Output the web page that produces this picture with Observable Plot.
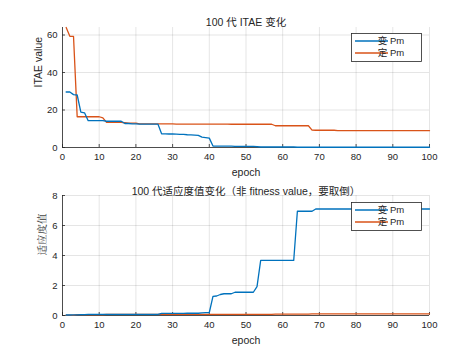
<!DOCTYPE html>
<html><head><meta charset="utf-8">
<script src="https://cdn.jsdelivr.net/npm/d3@7"></script>
<script src="https://cdn.jsdelivr.net/npm/@observablehq/plot@0.6"></script>
<style>
body{margin:0;background:#fff;}
#chart{width:474px;height:355px;}
#chart svg{display:block;overflow:visible;}
</style></head><body><div id="chart"></div>
<script>
// ---- data ----
const seriesNames = ["变 Pm", "定 Pm"];
const xTicks = [0, 10, 20, 30, 40, 50, 60, 70, 80, 90, 100];
const itaeTicks = [0, 20, 40, 60];
const fitTicks = [0, 2, 4, 6, 8];

// ITAE value per epoch (1..100), variable Pm
const itaeVar = [
  29.6,29.6,28.2,28.0,18.9,18.5,14.3,14.3,14.3,14.3,
  14.3,14.0,14.0,14.0,14.0,14.0,12.8,12.8,12.6,12.6,
  12.5,12.5,12.5,12.5,12.5,12.5,7.3,7.3,7.2,7.2,
  7.1,7.0,7.0,6.8,6.7,6.6,6.5,5.5,5.3,5.0,
  0.8,0.78,0.72,0.69,0.69,0.69,0.65,0.65,0.65,0.65,
  0.65,0.65,0.52,0.27,0.27,0.27,0.27,0.27,0.27,0.27,
  0.27,0.27,0.27,0.145,0.145,0.145,0.145,0.145,0.141,0.141,
  0.141,0.141,0.141,0.141,0.141,0.141,0.141,0.141,0.141,0.141,
  0.141,0.141,0.141,0.141,0.141,0.141,0.141,0.141,0.141,0.141,
  0.141,0.141,0.141,0.141,0.141,0.141,0.141,0.141,0.141,0.141
];
// ITAE value per epoch, fixed Pm
const itaeFix = [
  64,59.3,59.3,16.4,16.4,16.4,16.4,16.4,16.4,16.4,
  15.8,13.4,13.4,13.4,13.4,13.4,13.2,13.0,13.0,13.0,
  12.6,12.6,12.6,12.6,12.6,12.6,12.6,12.6,12.6,12.6,
  12.5,12.5,12.5,12.5,12.5,12.5,12.5,12.5,12.5,12.5,
  12.5,12.5,12.5,12.5,12.5,12.4,12.4,12.4,12.4,12.4,
  12.4,12.4,12.4,12.4,12.4,12.4,12.4,11.6,11.6,11.6,
  11.6,11.6,11.6,11.6,11.6,11.6,11.6,9.3,9.2,9.2,
  9.2,9.2,9.2,9.2,9.0,9.0,9.0,9.0,9.0,9.0,
  9.0,9.0,9.0,9.0,9.0,9.0,9.0,9.0,9.0,9.0,
  9.0,9.0,9.0,9.0,9.0,9.0,9.0,9.0,9.0,9.0
];
// fitness per epoch, variable Pm
const fitVar = [
  0.034,0.034,0.036,0.036,0.053,0.054,0.07,0.07,0.07,0.07,
  0.07,0.071,0.071,0.071,0.071,0.071,0.078,0.078,0.079,0.079,
  0.08,0.08,0.08,0.08,0.08,0.08,0.14,0.14,0.14,0.14,
  0.14,0.14,0.14,0.15,0.15,0.15,0.15,0.18,0.19,0.2,
  1.27,1.3,1.4,1.45,1.45,1.45,1.55,1.55,1.55,1.55,
  1.55,1.55,1.93,3.67,3.67,3.67,3.67,3.67,3.67,3.67,
  3.67,3.67,3.67,6.95,6.95,6.95,6.95,6.95,7.1,7.1,
  7.1,7.1,7.1,7.1,7.1,7.1,7.1,7.1,7.1,7.1,
  7.1,7.1,7.1,7.1,7.1,7.1,7.1,7.1,7.1,7.1,
  7.1,7.1,7.1,7.1,7.1,7.1,7.1,7.1,7.1,7.1
];
// fitness per epoch, fixed Pm
const fitFix = [
  0.016,0.017,0.017,0.061,0.061,0.061,0.061,0.061,0.061,0.061,
  0.063,0.075,0.075,0.075,0.075,0.075,0.077,0.077,0.077,0.077,
  0.08,0.08,0.08,0.08,0.08,0.08,0.08,0.08,0.08,0.08,
  0.08,0.08,0.08,0.08,0.08,0.08,0.08,0.08,0.08,0.08,
  0.08,0.08,0.08,0.08,0.08,0.08,0.08,0.08,0.08,0.08,
  0.08,0.08,0.08,0.08,0.08,0.08,0.08,0.086,0.086,0.086,
  0.086,0.086,0.086,0.086,0.086,0.086,0.086,0.11,0.11,0.11,
  0.11,0.11,0.11,0.11,0.11,0.11,0.11,0.11,0.11,0.11,
  0.11,0.11,0.11,0.11,0.11,0.11,0.11,0.11,0.11,0.11,
  0.11,0.11,0.11,0.11,0.11,0.11,0.11,0.11,0.11,0.11
];

// ---- styling ----
const FONT = "'Liberation Sans', Arial, 'Noto Sans CJK SC', sans-serif";
const INK = "#262626";
const BLUE = "#0072BD", ORANGE = "#D95319";
const W = 474, ML = 62, MR = 45;

function panel(o) {
  const innerH = o.height - o.marginTop - o.marginBottom;
  const innerW = W - ML - MR;
  const x = (d, i) => i + 1;
  const plot = Plot.plot({
    width: W, height: o.height,
    marginLeft: ML, marginRight: MR, marginTop: o.marginTop, marginBottom: o.marginBottom,
    style: {fontFamily: FONT, fontSize: "9.5px", color: INK, background: "white", overflow: "visible"},
    x: {domain: [0, 100]},
    y: {domain: o.domain},
    marks: [
      Plot.gridX(xTicks, {stroke: "#000", strokeOpacity: 0.1}),
      Plot.gridY(o.ticks, {stroke: "#000", strokeOpacity: 0.1}),
      Plot.ruleX([0], {stroke: INK, strokeWidth: 0.8}),
      Plot.ruleY([o.domain[0]], {stroke: INK, strokeWidth: 0.8}),
      Plot.tickX(xTicks, {x: d => d, stroke: INK, strokeWidth: 0.8, insetTop: innerH - 3}),
      Plot.tickY(o.ticks, {y: d => d, stroke: INK, strokeWidth: 0.8, insetRight: innerW - 3}),
      Plot.axisX(xTicks, {tickSize: 0, tickPadding: 6, fontSize: 9.5, label: "epoch", labelAnchor: "center", labelArrow: "none", labelOffset: o.xLabelOffset}),
      Plot.axisY(o.ticks, {tickSize: 0, tickPadding: 5, fontSize: 9.5, label: null}),
      Plot.line(o.fix, {x, y: d => d, stroke: ORANGE, strokeWidth: 1.3}),
      Plot.line(o.vary, {x, y: d => d, stroke: BLUE, strokeWidth: 1.3}),
      Plot.text([o.title], {frameAnchor: "top", dy: o.titleDy, fontSize: 10.5, fill: INK, fontFamily: FONT}),
      Plot.text([o.ylabel], {frameAnchor: "left", dx: o.ylabelDx, rotate: -90, fontSize: o.ylabelSize, fill: o.ylabelColor, fontFamily: o.ylabelFont})
    ]
  });
  const svg = d3.select(plot);
  svg.selectAll("[aria-label='x-axis label'] text, [aria-label='x-axis label']").attr("font-size", 10.5);
  // legend
  const g = svg.append("g").attr("font-family", FONT).attr("font-size", 9.5).attr("fill", INK);
  g.append("rect").attr("x", 351.5).attr("y", o.legendY + 0.5).attr("width", 70).attr("height", 28)
    .attr("fill", "white").attr("stroke", INK).attr("stroke-width", 0.8);
  [BLUE, ORANGE].forEach((c, i) => {
    const yy = o.legendY + 8 + i * 12;
    g.append("line").attr("x1", 355).attr("x2", 388).attr("y1", yy).attr("y2", yy).attr("stroke", c).attr("stroke-width", 1.3);
    g.append("text").attr("x", 391).attr("y", yy).attr("dy", "0.35em").text(seriesNames[i]);
  });
  return plot;
}

const topPanel = panel({
  height: 177, marginTop: 27, marginBottom: 30, domain: [0, 64], ticks: itaeTicks,
  vary: itaeVar, fix: itaeFix, title: "100 代 ITAE 变化", titleDy: -9,
  ylabel: "ITAE value", ylabelDx: -24, ylabelSize: 10.5, ylabelColor: INK, ylabelFont: FONT,
  xLabelOffset: 28, legendY: 33
});
const bottomPanel = panel({
  height: 178, marginTop: 18, marginBottom: 40, domain: [0, 8], ticks: fitTicks,
  vary: fitVar, fix: fitFix, title: "100 代适应度值变化（非 fitness value，要取倒）", titleDy: -8,
  ylabel: "适应度值", ylabelDx: -20, ylabelSize: 10.5, ylabelColor: "#444",
  ylabelFont: "'Noto Serif CJK SC', 'Noto Sans CJK SC', serif",
  xLabelOffset: 28, legendY: 25
});
document.getElementById("chart").append(topPanel, bottomPanel);
</script>
</body></html>
